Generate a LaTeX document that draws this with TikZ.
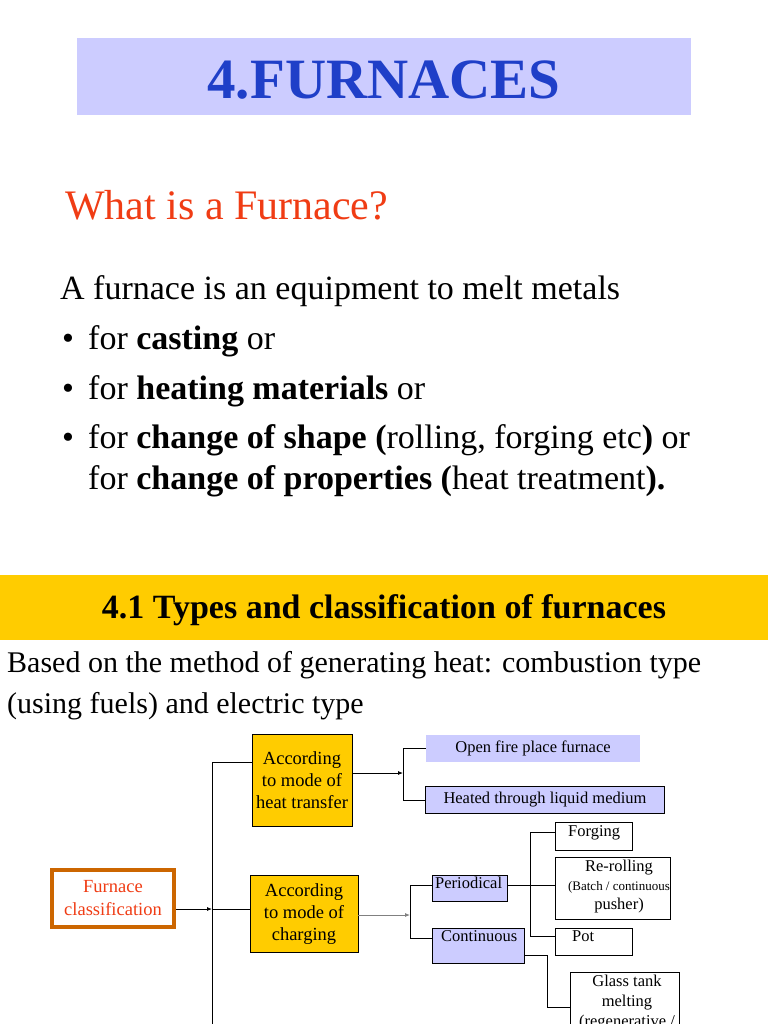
\documentclass[tikz,border=0pt]{standalone}
\usepackage{fontspec}
\setmainfont{Liberation Serif}
\usetikzlibrary{arrows.meta}
\definecolor{lav}{HTML}{CCCCFF}
\definecolor{ylw}{HTML}{FFCC00}
\definecolor{ttl}{HTML}{1F3FC8}
\definecolor{red1}{HTML}{F03C14}
\definecolor{org}{HTML}{CC6600}
\newcommand{\fs}[1]{\fontsize{#1}{1.2\dimexpr #1pt\relax}\selectfont}
\begin{document}
\begin{tikzpicture}[x=1pt,y=-1pt,
  body/.style={anchor=base west,inner sep=0,font=\fs{34}},
  ybox/.style={draw,fill=ylw,align=center,font=\fs{18.5},inner sep=0,line width=0.8pt},
  lbox/.style={draw,fill=lav,font=\fs{16.5},inner sep=0,line width=0.8pt},
  wbox/.style={draw,fill=white,font=\fs{16.5},inner sep=0,line width=0.8pt},
  lab/.style={font=\fs{16.5},anchor=north west,inner sep=0},
  ln/.style={line width=0.8pt},
  arr/.style={ln,-{Latex[length=5pt,width=4pt]}}]
\useasboundingbox (0,0) rectangle (768,1024);
\fill[white] (0,0) rectangle (768,1024);
% title
\node[fill=lav,minimum width=614,minimum height=77,anchor=north west,inner sep=0] (title) at (77,38) {};
\node[font=\fs{57}\bfseries,text=ttl] (tt) at (384,80) {4.FURNACES};
\node[body,font=\fs{42},text=red1] (q) at (65,220) {What is a Furnace?};
\node[body] (l1) at (60,299) {A furnace is an equipment to melt metals};
\node[body] (b1) at (62,349) {•};
\node[body] (l2) at (88,349) {for \textbf{casting} or};
\node[body] (b2) at (62,399) {•};
\node[body] (l3) at (88,399) {for \textbf{heating materials} or};
\node[body] (b3) at (62,448) {•};
\node[body] (l4) at (88,448) {for \textbf{change of shape (}rolling, forging etc\textbf{)} or};
\node[body] (l5) at (88,489) {for \textbf{change of properties (}heat treatment\textbf{).}};
% band
\node[fill=ylw,minimum width=768,minimum height=65,anchor=north west,inner sep=0] (band) at (0,575) {};
\node[font=\fs{34}\bfseries] (bt) at (384,610) {4.1 Types and classification of furnaces};
\node[body,font=\fs{30}] (s1) at (7,672) {Based on the method of generating heat: combustion type};
\node[body,font=\fs{30}] (s2) at (7,713) {(using fuels) and electric type};
% diagram
\node[draw=org,line width=4pt,fill=white,minimum width=122,minimum height=57,align=center,text=red1,font=\fs{18.5}] (fc) at (113,898) {Furnace\\classification};
\node[ybox,minimum width=100,minimum height=92] (y1) at (302,780) {According\\to mode of\\heat transfer};
\node[ybox,minimum width=108,minimum height=77] (y2) at (304,914) {According\\to mode of\\charging};
\node[fill=lav,font=\fs{16.5},inner sep=0,minimum width=214,minimum height=27] (of) at (533,748) {Open fire place furnace};
\node[lbox,minimum width=239,minimum height=27] (ht) at (545,800) {Heated through liquid medium};
\node[lbox,minimum width=75,minimum height=26,anchor=north west] (pe) at (432,875) {};
\node[lab] at (435,877) {Periodical};
\node[lbox,minimum width=92,minimum height=35,anchor=north west] (co) at (432,928) {};
\node[lab] at (441,930) {Continuous};
\node[wbox,minimum width=77,minimum height=28,anchor=north west] (fo) at (555,822) {};
\node[lab] at (568,825) {Forging};
\node[wbox,minimum width=115,minimum height=62,anchor=north west] (rr) at (555,857) {};
\node[font=\fs{16.5},align=center,inner sep=0,anchor=north] at (619,860) {Re-rolling\\[-1pt]{\fs{13}(Batch / continuous}\\[-1pt]pusher)};
\node[wbox,minimum width=77,minimum height=27,anchor=north west] (po) at (555,928) {};
\node[lab] at (572,930) {Pot};
\node[wbox,minimum width=109,minimum height=70,anchor=north west] (gl) at (570,972) {};
\node[font=\fs{16.5},anchor=north,align=center,inner sep=0] at (627,975) {Glass tank\\melting\\(regenerative /};
\coordinate (t0) at (212,762);
\coordinate (t1) at (212,1024);
\draw[ln] (t0) -- (t1);
\draw[arr] (fc.east|-0,909) -- (212,909);
\draw[ln] (t0) -- (y1.west|-t0);
\draw[ln] (212,909) -- (y2.west|-0,909);
\draw[arr] (y1.east|-0,773) -- (403,773);
\draw[ln] (of.west) -| (403,800) -- (ht.west);
\draw[arr,draw=gray] (y2.east|-0,915) -- (410,915);
\draw[ln] (pe.west|-0,885) -| (410,938) -- (co.west|-0,938);
\draw[ln] (pe.east|-0,885) -- (rr.west|-0,885);
\draw[ln] (fo.west|-0,832) -| (530,936) -- (po.west|-0,936);
\draw[ln] (co.east|-0,955) -| (547,1007) -- (gl.west|-0,1007);
\end{tikzpicture}
\end{document}
